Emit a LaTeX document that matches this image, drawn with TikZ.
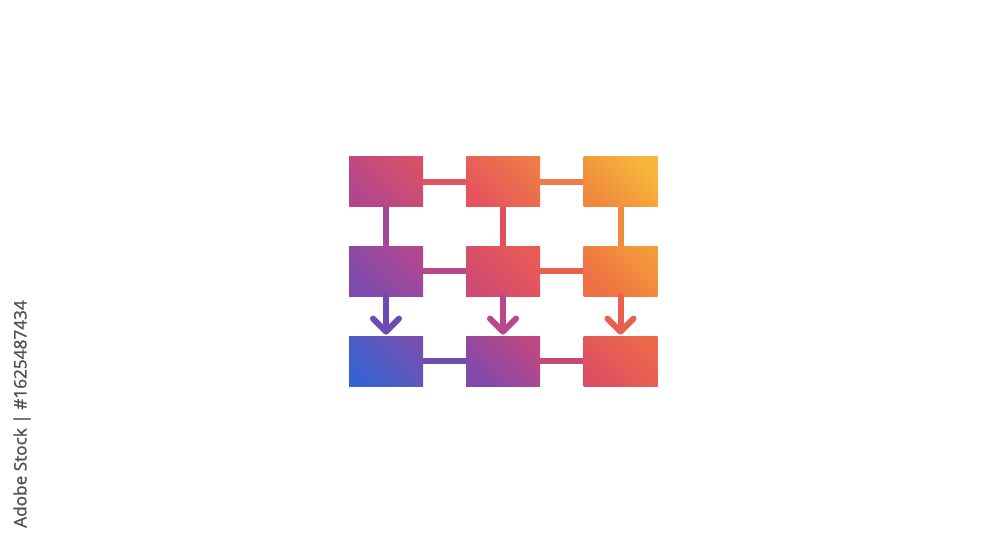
\documentclass[tikz,border=0pt]{standalone}
\usepackage{fontspec}
\newfontfamily\wmfont{Open Sans}[AutoFakeBold=1.2]
\usetikzlibrary{arrows.meta}
\definecolor{wmgray}{HTML}{505050}
\definecolor{a11}{HTML}{B2468E}\definecolor{z11}{HTML}{D6506A}
\definecolor{a21}{HTML}{E4535E}\definecolor{z21}{HTML}{EE7A48}
\definecolor{a31}{HTML}{F0883E}\definecolor{z31}{HTML}{F6B83A}
\definecolor{a12}{HTML}{7B4BAE}\definecolor{z12}{HTML}{B04890}
\definecolor{a22}{HTML}{CF4A72}\definecolor{z22}{HTML}{E95A56}
\definecolor{a32}{HTML}{EE6E45}\definecolor{z32}{HTML}{F39A3A}
\definecolor{a13}{HTML}{3862D2}\definecolor{z13}{HTML}{7450B2}
\definecolor{a23}{HTML}{8049AA}\definecolor{z23}{HTML}{BE4884}
\definecolor{a33}{HTML}{DE4E62}\definecolor{z33}{HTML}{EC6A4A}
\definecolor{h1a}{HTML}{DE5864}\definecolor{h1b}{HTML}{EE7C48}
\definecolor{h2a}{HTML}{B8488A}\definecolor{h2b}{HTML}{E8604E}
\definecolor{h3a}{HTML}{6E4CB0}\definecolor{h3b}{HTML}{C84878}
\definecolor{v1a}{HTML}{A0479A}\definecolor{v1b}{HTML}{DE5060}\definecolor{v1c}{HTML}{F08A3E}
\definecolor{v2a}{HTML}{6A4CB2}\definecolor{v2b}{HTML}{B8488A}\definecolor{v2c}{HTML}{E8604E}
\tikzset{
  blk/.style={rectangle, minimum width=37pt, minimum height=25pt, inner sep=0pt,
    bottom color=a#1, top color=z#1, shading angle=-45},
  conn/.style={line width=3pt, draw=#1},
  arr/.style={line width=3pt, draw=#1, line cap=round,
    -{Straight Barb[length=6.5pt, width=13pt, round]}, shorten >=0.5pt},
}
\begin{document}
\begin{tikzpicture}[x=0.5pt, y=-0.5pt]
\useasboundingbox[fill=white] (0,0) rectangle (1000,545);
\coordinate (c11) at (386,182); \coordinate (c21) at (503,182); \coordinate (c31) at (620.5,182);
\coordinate (c12) at (386,271); \coordinate (c22) at (503,271); \coordinate (c32) at (620.5,271);
\coordinate (c13) at (386,361); \coordinate (c23) at (503,361); \coordinate (c33) at (620.5,361);
% boxes
\node[blk=11] (b11) at (c11) {};
\node[blk=21] (b21) at (c21) {};
\node[blk=31] (b31) at (c31) {};
\node[blk=12] (b12) at (c12) {};
\node[blk=22] (b22) at (c22) {};
\node[blk=32] (b32) at (c32) {};
\node[blk=13] (b13) at (c13) {};
\node[blk=23] (b23) at (c23) {};
\node[blk=33] (b33) at (c33) {};
% horizontal connectors
\draw[conn=h1a] (b11.east) -- (b21.west);
\draw[conn=h1b] (b21.east) -- (b31.west);
\draw[conn=h2a] (b12.east) -- (b22.west);
\draw[conn=h2b] (b22.east) -- (b32.west);
\draw[conn=h3a] (b13.east) -- (b23.west);
\draw[conn=h3b] (b23.east) -- (b33.west);
% vertical connectors
\draw[conn=v1a] (b11.south) -- (b12.north);
\draw[conn=v1b] (b21.south) -- (b22.north);
\draw[conn=v1c] (b31.south) -- (b32.north);
\draw[arr=v2a] (b12.south) -- (b13.north);
\draw[arr=v2b] (b22.south) -- (b23.north);
\draw[arr=v2c] (b32.south) -- (b33.north);
% side text
\node[rotate=90, text=wmgray, font=\wmfont\bfseries\fontsize{8.6pt}{10pt}\selectfont, inner sep=0pt] (wm) at (22,414) {Adobe Stock | \#1625487434};
\end{tikzpicture}
\end{document}
